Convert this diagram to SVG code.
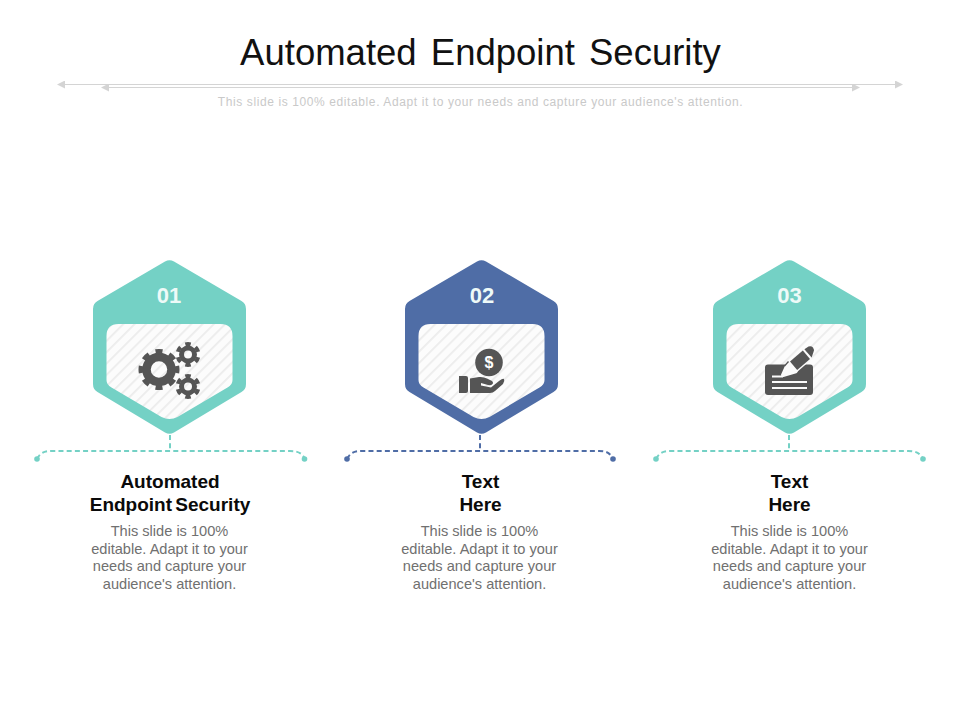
<svg xmlns="http://www.w3.org/2000/svg" width="960" height="720" viewBox="0 0 960 720">
<style>
text{font-family:"Liberation Sans",Arial,sans-serif;text-anchor:middle}
.title{font-size:36.500px;fill:#111;word-spacing:4px}
.sub{font-size:12px;fill:#c9c9c9;letter-spacing:.6px}
.num{font-size:22px;font-weight:bold;fill:#eefaf8}
.head{font-size:19px;font-weight:bold;fill:#0a0a0a}
.body{font-size:14.600px;fill:#707070}
.rule{stroke:#d4d4d4;stroke-width:1.200;fill:none}
.bracket{fill:none;stroke-width:2;stroke-dasharray:5 3.200}
.teal{stroke:#74d1c5}.blue{stroke:#4f6da6}
.ic{fill:#555}
</style>
<defs>
<pattern id="hatch" width="8" height="8" patternUnits="userSpaceOnUse" patternTransform="rotate(45)">
<rect width="8" height="8" fill="#fcfcfc"/><rect width="1.800" height="8" fill="#ececec"/>
</pattern>
<marker id="ah" viewBox="0 0 8 8" refX="7" refY="4" markerWidth="8" markerHeight="8" markerUnits="userSpaceOnUse" orient="auto-start-reverse"><path d="M0 0L8 4L0 8Z" fill="#d4d4d4"/></marker>
<path id="hex" d="M-4.500-173.500Q0-176 4.500-173.500L72-134Q76.500-131.500 76.500-126V-51Q76.500-45.500 72-43L4.500-2.500Q0 0 -4.500-2.500L-72-43Q-76.500-45.500 -76.500-51V-126Q-76.500-131.500 -72-134Z"/>
<path id="inner" d="M-51-111H51Q63-111 63-99V-55Q63-50 58-47.500L8-18Q0-14 -8-18L-58-47.500Q-63-50 -63-55V-99Q-63-111 -51-111Z" fill="url(#hatch)"/>
</defs>
<text class="title" x="480.500" y="65">Automated Endpoint Security</text>
<g id="rules">
<line class="rule" x1="58" y1="84.500" x2="902" y2="84.500" marker-start="url(#ah)" marker-end="url(#ah)"/>
<line class="rule" x1="102" y1="87.500" x2="859" y2="87.500" marker-start="url(#ah)" marker-end="url(#ah)"/>
</g>
<text class="sub" x="480.500" y="106">This slide is 100% editable. Adapt it to your needs and capture your audience's attention.</text>
<g id="connectors">
<path class="bracket teal" d="M170 435V451M37 459C40 453 44 451 52 451H290C298 451 302 453 305 459"/>
<path class="bracket blue" d="M480 435V451M347 459C350 453 354 451 362 451H599C607 451 610 453 613 459"/>
<path class="bracket teal" d="M789 435V451M656 459C659 453 663 451 671 451H908C916 451 920 453 923 459"/>
<g fill="#74d1c5"><circle cx="37" cy="459" r="2.800"/><circle cx="304.500" cy="459" r="2.800"/><circle cx="656" cy="459" r="2.800"/><circle cx="923" cy="459" r="2.800"/></g>
<g fill="#4f6da6"><circle cx="347" cy="459" r="2.800"/><circle cx="613" cy="459" r="2.800"/></g>
</g>
<g id="node1">
<use href="#hex" x="169.500" y="435" fill="#74d1c5"/>
<use href="#inner" x="169.500" y="435"/>
<text class="num" x="169" y="303">01</text>
<g fill="none" stroke="#555">
<circle cx="159" cy="369.500" r="12.500" stroke-width="8.500"/>
<circle cx="159" cy="369.500" r="18" stroke-width="5" pathLength="80" stroke-dasharray="5 5" stroke-dashoffset="2.500"/>
<circle cx="188" cy="354.500" r="6.500" stroke-width="5"/>
<circle cx="188" cy="354.500" r="10.500" stroke-width="4" pathLength="60" stroke-dasharray="5 5" stroke-dashoffset="7.500"/>
<circle cx="188" cy="386.500" r="6.500" stroke-width="5"/>
<circle cx="188" cy="386.500" r="10.500" stroke-width="4" pathLength="60" stroke-dasharray="5 5" stroke-dashoffset="7.500"/>
</g>
<text class="head" x="170" y="488">Automated</text>
<text class="head" x="170" y="511" style="word-spacing:-2px">Endpoint Security</text>
<text class="body" x="169.500" y="536">This slide is 100%</text>
<text class="body" x="169.500" y="554">editable. Adapt it to your</text>
<text class="body" x="169.500" y="571">needs and capture your</text>
<text class="body" x="169.500" y="589">audience's attention.</text>
</g>
<g id="node2">
<use href="#hex" x="481.500" y="435" fill="#4f6da6"/>
<use href="#inner" x="481.500" y="435"/>
<text class="num" x="482" y="303">02</text>
<circle class="ic" cx="489" cy="362.500" r="13.800"/>
<text x="489" y="368" style="font-size:16px;font-weight:bold;fill:#fff">$</text>
<path class="ic" d="M459 376H466Q468 376 468 378V391Q468 393 466 393H459Z"/>
<path class="ic" d="M470 378.500L479 377Q483 376.500 487 378.500L492 381Q494 383 492 384.500Q491 385.500 488 385L481 383V385.500L491 387.500L499 381Q503 378 504 379Q505 381 503 384L495 391Q493 393 490 393H470Z"/>
<text class="head" x="480.500" y="488">Text</text>
<text class="head" x="480.500" y="511">Here</text>
<text class="body" x="479.500" y="536">This slide is 100%</text>
<text class="body" x="479.500" y="554">editable. Adapt it to your</text>
<text class="body" x="479.500" y="571">needs and capture your</text>
<text class="body" x="479.500" y="589">audience's attention.</text>
</g>
<g id="node3">
<use href="#hex" x="789.500" y="435" fill="#74d1c5"/>
<use href="#inner" x="789.500" y="435"/>
<text class="num" x="789.500" y="303">03</text>
<rect class="ic" x="765" y="364.500" width="48" height="30.500" rx="3"/>
<path d="M772 376.500H783M772 382H807M772 388H807" stroke="#fbfbfb" stroke-width="1.800" fill="none"/>
<path d="M783 375L788.500 362.900L795.700 371.300Z" fill="#fbfbfb" stroke="#fbfbfb" stroke-width="4" stroke-linejoin="round"/>
<path d="M790 361.600L802.800 350.500L810 358.900L797.200 370Z" fill="#fbfbfb" stroke="#fbfbfb" stroke-width="3"/>
<path class="ic" d="M790 361.600L802.800 350.500L810 358.900L797.200 370Z"/>
<path class="ic" d="M804.400 349.200L808.500 346.500Q811 345.500 813 347.500Q814.500 349.500 813.500 352L811.600 357.600Z"/>
<path d="M788.500 361.500L784.500 366" stroke="#555" stroke-width="1.300" fill="none"/>
<text class="head" x="789.500" y="488">Text</text>
<text class="head" x="789.500" y="511">Here</text>
<text class="body" x="789.500" y="536">This slide is 100%</text>
<text class="body" x="789.500" y="554">editable. Adapt it to your</text>
<text class="body" x="789.500" y="571">needs and capture your</text>
<text class="body" x="789.500" y="589">audience's attention.</text>
</g>
</svg>
